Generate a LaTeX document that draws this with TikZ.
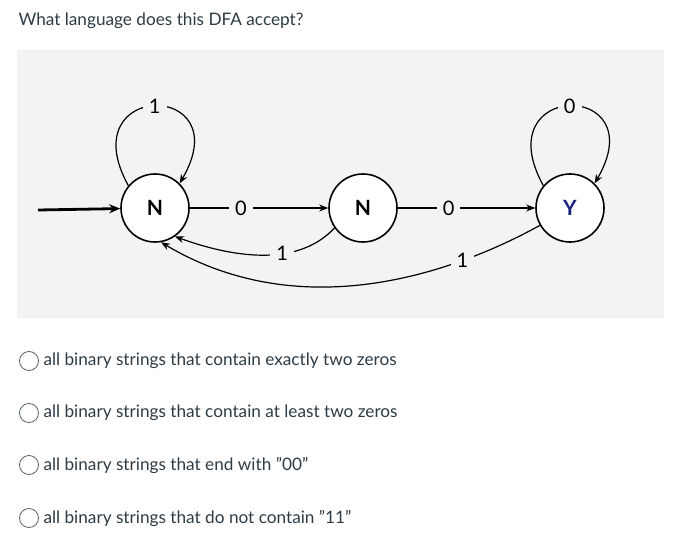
\documentclass[tikz,border=0pt]{standalone}
\usepackage{fontspec}
\setmainfont{Lato}
\usetikzlibrary{arrows.meta}
\definecolor{bg}{HTML}{F2F3F5}
\definecolor{txt}{HTML}{2D3B45}
\definecolor{yb}{HTML}{1A237E}
\begin{document}
\begin{tikzpicture}[x=1pt,y=-1pt,
  st/.style={circle,draw,line width=1.6pt,minimum size=68pt,inner sep=0pt,font=\fontsize{21}{24}\selectfont\bfseries,fill=white},
  lab/.style={fill=bg,inner sep=6pt,font=\fontsize{20}{22}\selectfont},
  tr/.style={line width=1.2pt,-{Stealth[length=9pt,width=7pt]}},
  opt/.style={anchor=west,font=\fontsize{17.2}{20}\selectfont,text=txt},
  rb/.style={circle,draw=txt!80,line width=0.8pt,minimum size=19pt,inner sep=0pt}]
\useasboundingbox (0,0) rectangle (689,535);
\node[anchor=west,text=txt,font=\fontsize{17.2}{20}\selectfont] (title) at (15,21) {What language does this DFA accept?};
\fill[bg] (17,50) rectangle (664,318);
\node[st] (n1) at (155,208) {N};
\node[st] (n2) at (363,208) {N};
\node[st,text=yb] (y) at (570,208) {Y};
\coordinate (s) at (38,210);
\draw[line width=2.8pt,-{Stealth[length=11pt,width=9pt]}] (s) -- (n1);
\draw[tr] (n1) -- node[lab,pos=0.37]{0} (n2);
\draw[tr] (n2) -- node[lab,pos=0.37]{0} (y);
\draw[tr] (n2.215) .. controls (300,265) and (240,260) .. node[lab,pos=0.4]{1} (n1.-55);
\draw[tr] (y.210) .. controls (450,275) and (300,325) .. node[lab,pos=0.25]{1} (n1.-80);
\draw[tr] (n1.140) .. controls (70,80) and (240,80) .. node[lab]{1} (n1.45);
\draw[tr] (y.140) .. controls (485,80) and (655,80) .. node[lab]{0} (y.45);
\foreach \i/\yy/\t in {1/361/all binary strings that contain exactly two zeros,
 2/413/all binary strings that contain at least two zeros,
 3/465/all binary strings that end with \symbol{34}00\symbol{34},
 4/518/all binary strings that do not contain \symbol{34}11\symbol{34}}{
  \node[rb] (r\i) at (29,\yy) {};
  \node[opt] (o\i) at (40,\yy) {\t};
}
\end{tikzpicture}
\end{document}
